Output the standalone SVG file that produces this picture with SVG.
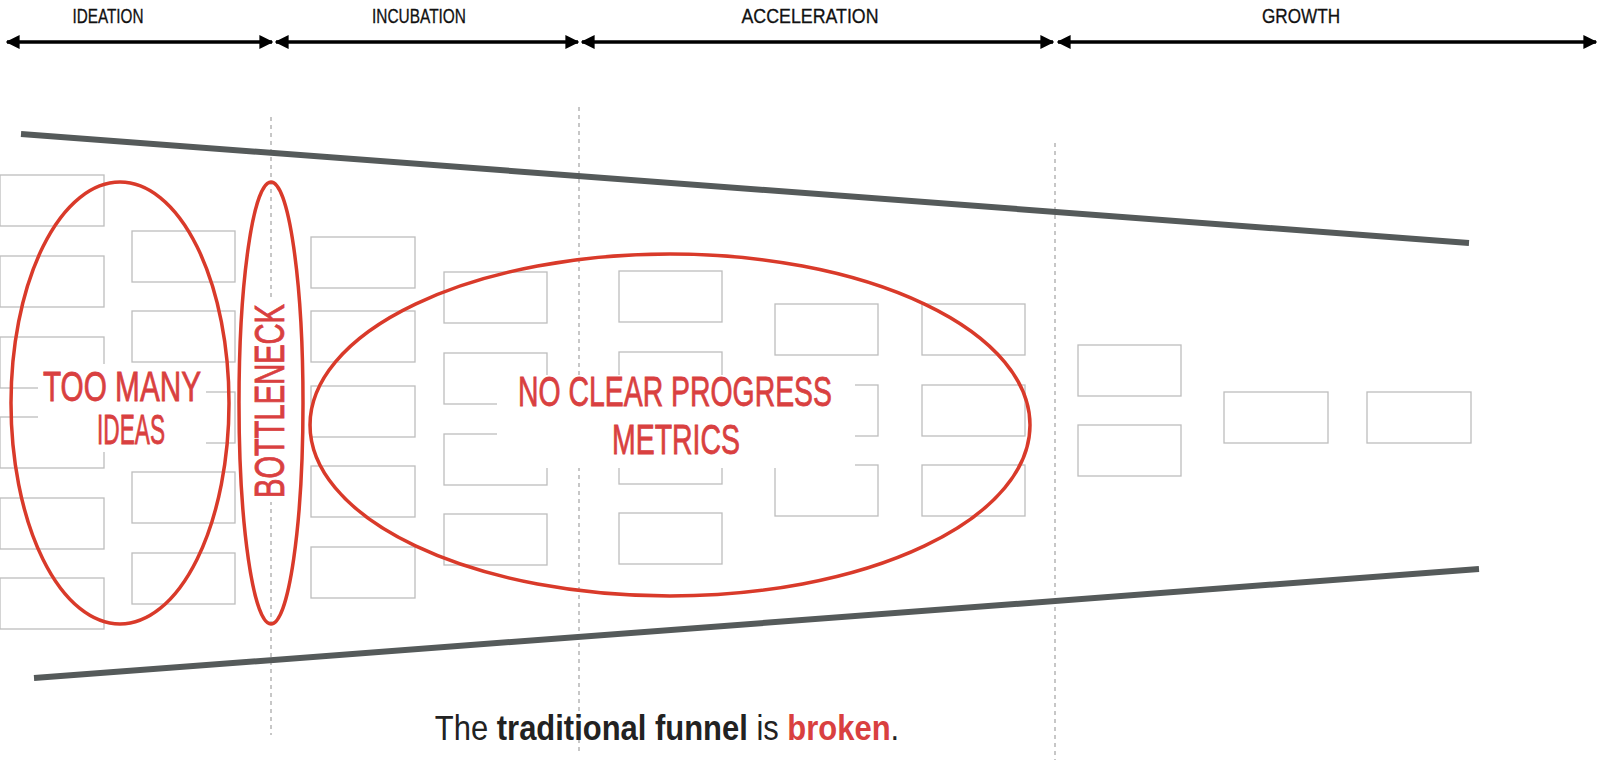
<svg xmlns="http://www.w3.org/2000/svg" width="1600" height="760" viewBox="0 0 1600 760">
<defs>
<style>
.b{fill:#fff;stroke:#bdbdbd;stroke-width:1.3}
.f{stroke:#555a5a;stroke-width:6;fill:none}
.d{stroke:#aaa;stroke-width:1.3;stroke-dasharray:4 4;fill:none}
.a{stroke:#000;stroke-width:3.5;marker-start:url(#h);marker-end:url(#h)}
.e{fill:none;stroke:#d93a2a;stroke-width:3.5}
.h{font-family:"Liberation Sans",Arial,sans-serif;font-size:20px;fill:#111;stroke:#111;stroke-width:0.3;text-anchor:middle}
.r{font-family:"Liberation Sans",Arial,sans-serif;font-size:42px;fill:#d94040;stroke:#d94040;stroke-width:0.8;text-anchor:middle}
.t{font-family:"Liberation Sans",Arial,sans-serif;font-size:36px;fill:#222;text-anchor:middle}
</style>
<marker id="h" viewBox="0 0 10 10" refX="9" refY="5" markerWidth="4" markerHeight="4" orient="auto-start-reverse"><path d="M0,0L10,5L0,10z" fill="#000"/></marker>
</defs>
<rect width="1600" height="760" fill="#fff"/>
<g id="boxes">
<rect class="b" x="0" y="175" width="104" height="51"/><rect class="b" x="0" y="256" width="104" height="51"/><rect class="b" x="0" y="337" width="104" height="51"/><rect class="b" x="0" y="417" width="104" height="51"/><rect class="b" x="0" y="498" width="104" height="51"/><rect class="b" x="0" y="578" width="104" height="51"/>
<rect class="b" x="132" y="231" width="103" height="51"/><rect class="b" x="132" y="311" width="103" height="51"/><rect class="b" x="132" y="392" width="103" height="51"/><rect class="b" x="132" y="472" width="103" height="51"/><rect class="b" x="132" y="553" width="103" height="51"/>
<rect class="b" x="311" y="237" width="104" height="51"/><rect class="b" x="311" y="311" width="104" height="51"/><rect class="b" x="311" y="386" width="104" height="51"/><rect class="b" x="311" y="466" width="104" height="51"/><rect class="b" x="311" y="547" width="104" height="51"/>
<rect class="b" x="444" y="272" width="103" height="51"/><rect class="b" x="444" y="353" width="103" height="51"/><rect class="b" x="444" y="434" width="103" height="51"/><rect class="b" x="444" y="514" width="103" height="51"/>
<rect class="b" x="619" y="271" width="103" height="51"/><rect class="b" x="619" y="352" width="103" height="51"/><rect class="b" x="619" y="433" width="103" height="51"/><rect class="b" x="619" y="513" width="103" height="51"/>
<rect class="b" x="775" y="304" width="103" height="51"/><rect class="b" x="775" y="385" width="103" height="51"/><rect class="b" x="775" y="465" width="103" height="51"/>
<rect class="b" x="922" y="304" width="103" height="51"/><rect class="b" x="922" y="385" width="103" height="51"/><rect class="b" x="922" y="465" width="103" height="51"/>
<rect class="b" x="1078" y="345" width="103" height="51"/><rect class="b" x="1078" y="425" width="103" height="51"/>
<rect class="b" x="1224" y="392" width="104" height="51"/><rect class="b" x="1367" y="392" width="104" height="51"/>
</g>
<g id="guides">
<line class="d" x1="271" y1="117" x2="271" y2="735"/>
<line class="d" x1="579" y1="107" x2="579" y2="755"/>
<line class="d" x1="1055" y1="143" x2="1055" y2="760"/>
</g>
<g id="funnel">
<line class="f" x1="21" y1="134" x2="1469" y2="243"/>
<line class="f" x1="34" y1="678" x2="1479" y2="569"/>
</g>
<g id="connectors">
<line class="a" x1="7" y1="42" x2="272" y2="42"/>
<line class="a" x1="276" y1="42" x2="578" y2="42"/>
<line class="a" x1="582" y1="42" x2="1053" y2="42"/>
<line class="a" x1="1058" y1="42" x2="1596" y2="42"/>
</g>
<g id="phases">
<text class="h" x="108" y="23" textLength="71" lengthAdjust="spacingAndGlyphs">IDEATION</text>
<text class="h" x="419" y="23" textLength="94" lengthAdjust="spacingAndGlyphs">INCUBATION</text>
<text class="h" x="810" y="23" textLength="137" lengthAdjust="spacingAndGlyphs">ACCELERATION</text>
<text class="h" x="1301" y="23" textLength="78" lengthAdjust="spacingAndGlyphs">GROWTH</text>
</g>
<g id="too-many-ideas">
<rect x="38" y="364" width="168" height="88" fill="#fff"/>
<ellipse class="e" cx="120" cy="403" rx="109" ry="221"/>
<text class="r" x="122" y="401" textLength="158" lengthAdjust="spacingAndGlyphs">TOO MANY</text>
<text class="r" x="131" y="444" textLength="68" lengthAdjust="spacingAndGlyphs">IDEAS</text>
</g>
<g id="bottleneck">
<rect x="250" y="300" width="38" height="202" fill="#fff"/>
<ellipse class="e" cx="271" cy="403" rx="32" ry="221"/>
<text class="r" transform="translate(284,401) rotate(-90)" x="0" y="0" textLength="194" lengthAdjust="spacingAndGlyphs">BOTTLENECK</text>
</g>
<g id="no-clear-metrics">
<rect x="497" y="375" width="358" height="93" fill="#fff"/>
<ellipse class="e" cx="670" cy="425" rx="360" ry="171"/>
<text class="r" x="675" y="406" textLength="314" lengthAdjust="spacingAndGlyphs">NO CLEAR PROGRESS</text>
<text class="r" x="676" y="454" textLength="128" lengthAdjust="spacingAndGlyphs">METRICS</text>
</g>
<g id="caption">
<text class="t" transform="translate(667,740) scale(0.86,1)">The <tspan font-weight="bold">traditional funnel</tspan> is <tspan font-weight="bold" fill="#d94040">broken</tspan>.</text>
</g>
</svg>
